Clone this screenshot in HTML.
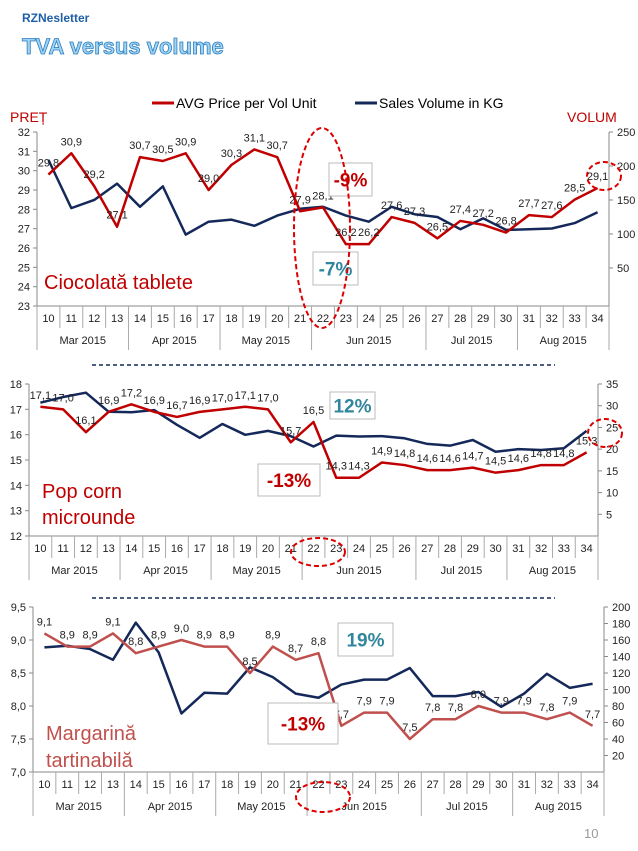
<!DOCTYPE html>
<html><head><meta charset="utf-8"><style>
body{margin:0;background:#fff;font-family:"Liberation Sans",sans-serif;}
svg{display:block}
</style></head><body>
<svg id="s" width="638" height="851" viewBox="0 0 638 851" xmlns="http://www.w3.org/2000/svg" font-family="Liberation Sans, sans-serif">
<text x="22" y="22" font-size="12" font-weight="bold" fill="#1f5fa8">RZNesletter</text>
<text x="22" y="54" font-size="22" font-weight="bold" fill="#9fd3f2" stroke="#2d7fc1" stroke-width="0.8">TVA versus volume</text>
<g>
<line x1="152" y1="103" x2="174" y2="103" stroke="#c00000" stroke-width="3"/>
<text x="176" y="108" font-size="14" fill="#000">AVG Price per Vol Unit</text>
<line x1="355" y1="103" x2="377" y2="103" stroke="#14285a" stroke-width="3"/>
<text x="379" y="108" font-size="14" fill="#000">Sales Volume in KG</text>
</g>
<text x="10" y="122" font-size="14" fill="#c00000">PREȚ</text>
<text x="567" y="122" font-size="14" fill="#c00000">VOLUM</text>
<line x1="92" y1="365" x2="555" y2="365" stroke="#14285a" stroke-width="1.5" stroke-dasharray="4,3"/>
<line x1="92" y1="598" x2="555" y2="598" stroke="#14285a" stroke-width="1.5" stroke-dasharray="4,3"/>
<text x="584" y="838" font-size="13" fill="#999">10</text>
</svg>
<script>
const categories=[10,11,12,13,14,15,16,17,18,19,20,21,22,23,24,25,26,27,28,29,30,31,32,33,34];
const months=[["Mar 2015",4],["Apr 2015",4],["May 2015",4],["Jun 2015",5],["Jul 2015",4],["Aug 2015",4]];
const price1=[29.8,30.9,29.2,27.1,30.7,30.5,30.9,29.0,30.3,31.1,30.7,27.9,28.1,26.2,26.2,27.6,27.3,26.5,27.4,27.2,26.8,27.7,27.6,28.5,29.1];
const volume1=[209,138,150,174,140,170,99,118,121,112,127,137,140,127,118,140,129,125,107,123,106,107,108,116,132];
const leftTicks1=[23,24,25,26,27,28,29,30,31,32];
const rightTicks1=[50,100,150,200,250];
const price2=[17.1,17.0,16.1,16.9,17.2,16.9,16.7,16.9,17.0,17.1,17.0,15.7,16.5,14.3,14.3,14.9,14.8,14.6,14.6,14.7,14.5,14.6,14.8,14.8,15.3];
const volume2=[30.7,32,33,28.6,28.5,29,25.6,22.6,25.8,23.3,24.2,23,20.6,23.1,22.9,23,22.5,21.2,20.8,22.1,19.4,20,19.8,20.2,24.2];
const leftTicks2=[12,13,14,15,16,17,18];
const rightTicks2=[5,10,15,20,25,30,35];
const price3=[9.1,8.9,8.9,9.1,8.8,8.9,9.0,8.9,8.9,8.5,8.9,8.7,8.8,7.7,7.9,7.9,7.5,7.8,7.8,8.0,7.9,7.9,7.8,7.9,7.7];
const volume3=[151,153,149,136,181,145,71,96,95,127,115,95,90,106,112,112,126,92,92,97,79,95,119,102,107];
const leftTicks3=[7.0,7.5,8.0,8.5,9.0,9.5];
const rightTicks3=[20,40,60,80,100,120,140,160,180,200];

const NS="http://www.w3.org/2000/svg";
const svg=document.getElementById('s');
function mk(tag,attrs,parent,text){const e=document.createElementNS(NS,tag);for(const k in attrs)e.setAttribute(k,attrs[k]);if(text!==undefined)e.textContent=text;(parent||svg).appendChild(e);return e;}
function fmt(v,d){return v.toFixed(d).replace('.',',');}

function drawChart(c){
  const g=mk('g',{});
  
  
  const n=categories.length, cw=(c.R-c.L)/n;
  const xs=i=>c.L+cw*(i+0.5);
  const yl=v=>c.B-(v-c.lmin)/(c.lmax-c.lmin)*(c.B-c.T);
  const yr=v=>c.B-(v-c.rmin)/(c.rmax-c.rmin)*(c.B-c.T);
  mk('line',{x1:c.L,y1:c.T,x2:c.L,y2:c.B,stroke:'#888'},g);
  mk('line',{x1:c.R,y1:c.T,x2:c.R,y2:c.B,stroke:'#888'},g);
  mk('line',{x1:c.L,y1:c.B,x2:c.R,y2:c.B,stroke:'#888'},g);
  c.lt.forEach(v=>{const y=yl(v);mk('line',{x1:c.L-4,y1:y,x2:c.L,y2:y,stroke:'#888'},g);
    const t=mk('text',{x:c.L-7,y:y+4,'font-size':11,'text-anchor':'end',fill:'#222'},g,fmt(v,c.ld));
    });
  c.rt.forEach(v=>{const y=yr(v);mk('line',{x1:c.R,y1:y,x2:c.R+4,y2:y,stroke:'#888'},g);
    const t=mk('text',{x:c.R+8,y:y+4,'font-size':11,fill:'#222'},g,String(v));
    });
  for(let i=0;i<=n;i++){const x=c.L+cw*i;mk('line',{x1:x,y1:c.B,x2:x,y2:c.B+22,stroke:'#aaa'},g);}
  categories.forEach((v,i)=>{const t=mk('text',{x:xs(i),y:c.B+16,'font-size':11,'text-anchor':'middle',fill:'#222'},g,String(v));
    });
  let k=0;
  mk('line',{x1:c.L,y1:c.B,x2:c.L,y2:c.B+44,stroke:'#aaa'},g);
  months.forEach(m=>{const x0=c.L+cw*k;k+=m[1];const x1=c.L+cw*k;
    mk('line',{x1:x1,y1:c.B+22,x2:x1,y2:c.B+44,stroke:'#aaa'},g);
    const t=mk('text',{x:(x0+x1)/2,y:c.B+38,'font-size':11,'text-anchor':'middle',fill:'#222'},g,m[0]);
    });
  const vp=c.vol.map((v,i)=>xs(i)+','+yr(v)).join(' ');
  const vl=mk('polyline',{points:vp,fill:'none',stroke:'#14285a','stroke-width':2.5,'stroke-linejoin':'round'},g);
  
  const pp=c.price.map((v,i)=>xs(i)+','+yl(v)).join(' ');
  const pl=mk('polyline',{points:pp,fill:'none',stroke:c.pc,'stroke-width':2.5,'stroke-linejoin':'round'},g);
  
  c.price.forEach((v,i)=>{const t=mk('text',{x:xs(i),y:yl(v)-8,'font-size':11,'text-anchor':'middle',fill:'#222'},g,fmt(v,1));
    });
}
drawChart({name:'chart-ciocolata',L:37,R:609,T:132,B:306,lmin:23,lmax:32,rmin:-6,rmax:250,lt:leftTicks1,rt:rightTicks1,ld:0,price:price1,vol:volume1,pc:'#c00000'});
drawChart({name:'chart-popcorn',L:29,R:598,T:384,B:536,lmin:12,lmax:18,rmin:0,rmax:35,lt:leftTicks2,rt:rightTicks2,ld:0,price:price2,vol:volume2,pc:'#c00000'});
drawChart({name:'chart-margarina',L:33,R:604,T:607,B:772,lmin:7,lmax:9.5,rmin:0,rmax:200,lt:leftTicks3,rt:rightTicks3,ld:1,price:price3,vol:volume3,pc:'#c0504d'});

function box(x,y,w,h,txt,col,name){const b=mk('rect',{x:x,y:y,width:w,height:h,fill:'#fff',stroke:'#bbb'});
  
  const t=mk('text',{x:x+w/2,y:y+h/2+7,'font-size':19,'font-weight':'bold','text-anchor':'middle',fill:col},svg,txt);
  }
function ell(cx,cy,rx,ry,name){const e=mk('ellipse',{cx:cx,cy:cy,rx:rx,ry:ry,fill:'none',stroke:'#d00','stroke-width':2,'stroke-dasharray':'5,3'});
  }
function lbl(x,y,txt,col,name){const t=mk('text',{x:x,y:y,'font-size':20,fill:col},svg,txt);
  }
box(329,163,43,33,'-9%','#c00000','change-price-1');
box(313,252,45,33,'-7%','#31859c','change-volume-1');
ell(322,228,28,100,'highlight-jun-1');
ell(604,176,17,14,'highlight-last-1');
lbl(44,289,'Ciocolată tablete','#c00000','product-name-1');
box(330,392,45,27,'12%','#31859c','change-volume-2');
box(258,464,62,32,'-13%','#c00000','change-price-2');
ell(318,552,27,14,'highlight-jun-2');
ell(605,433,17,14,'highlight-last-2');
lbl(42,498,'Pop corn','#c00000','product-name-2a');
lbl(42,524,'microunde','#c00000','product-name-2b');
box(338,623,55,33,'19%','#31859c','change-volume-3');
box(268,703,70,41,'-13%','#c00000','change-price-3');
ell(323,797,27,15,'highlight-jun-3');
lbl(46,740,'Margarină','#c0504d','product-name-3a');
lbl(46,767,'tartinabilă','#c0504d','product-name-3b');
</script>
</body></html>
